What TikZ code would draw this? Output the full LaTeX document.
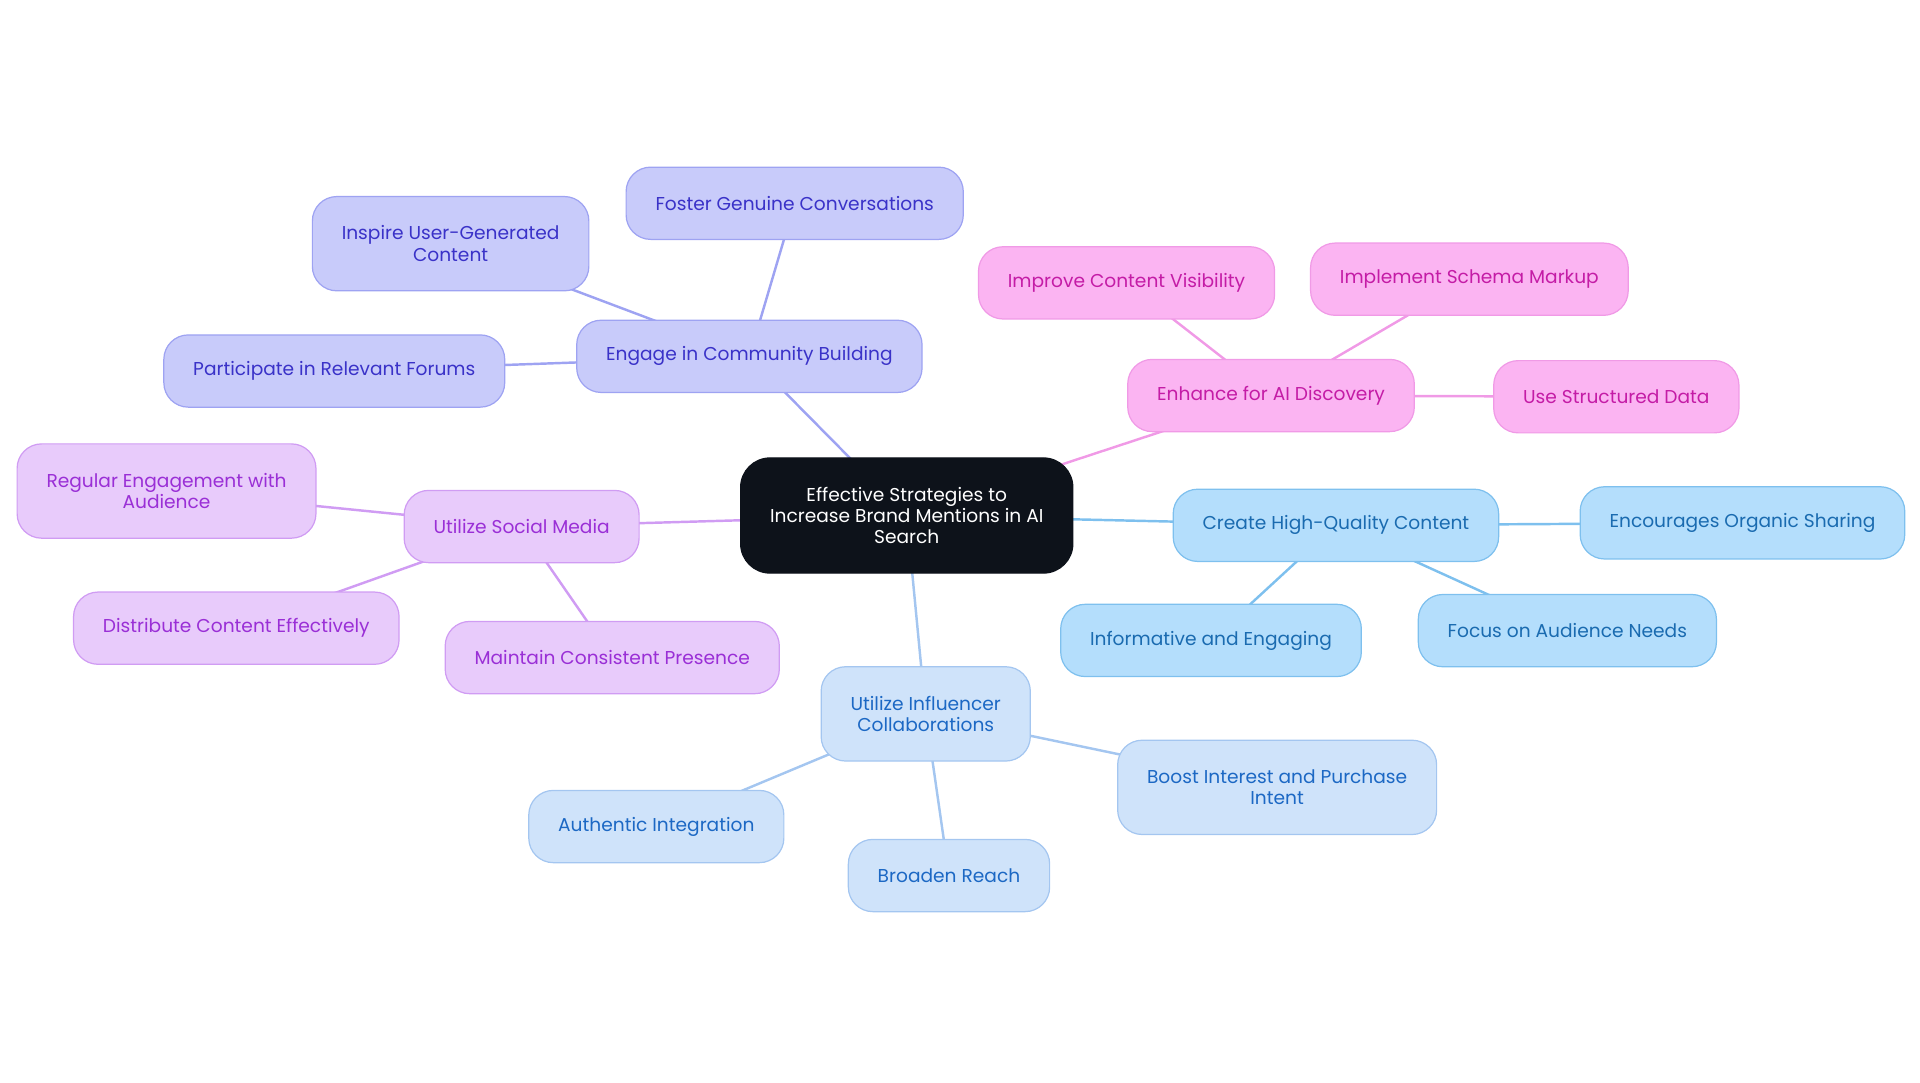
\documentclass[tikz,border=0pt]{standalone}
\usepackage{fontspec}
\setmainfont{Poppins}
\usetikzlibrary{backgrounds}
\definecolor{rootfill}{HTML}{0D121A}
\definecolor{comfill}{HTML}{C8CBFA}
\definecolor{comline}{HTML}{9EA3F2}
\definecolor{comtext}{HTML}{3A32C8}
\definecolor{aifill}{HTML}{FBB4F2}
\definecolor{ailine}{HTML}{F09AE6}
\definecolor{aitext}{HTML}{C41CA6}
\definecolor{socfill}{HTML}{E8CBFB}
\definecolor{socline}{HTML}{D09CF3}
\definecolor{soctext}{HTML}{9A2FD6}
\definecolor{hqfill}{HTML}{B4DEFC}
\definecolor{hqline}{HTML}{7EC0EE}
\definecolor{hqtext}{HTML}{1A6BB0}
\definecolor{inffill}{HTML}{CFE3FA}
\definecolor{infline}{HTML}{A4C6F0}
\definecolor{inftext}{HTML}{1C68C4}
\begin{document}
\begin{tikzpicture}[x=1pt,y=-1pt,
 every node/.style = {shape=rectangle, rounded corners=20pt, draw, align=center, line width=1pt,
   inner xsep=24pt, minimum height=59pt, font=\fontsize{15.2}{17.5}\selectfont},
 root/.style = {fill=rootfill, draw=rootfill, text=white, minimum height=94pt, rounded corners=24pt},
 com/.style = {fill=comfill, draw=comline, text=comtext},
 ai/.style = {fill=aifill, draw=ailine, text=aitext},
 soc/.style = {fill=socfill, draw=socline, text=soctext},
 hq/.style = {fill=hqfill, draw=hqline, text=hqtext},
 inf/.style = {fill=inffill, draw=infline, text=inftext},
 twoline/.style = {minimum height=77pt},
 link/.style = {line width=2pt}]
 \useasboundingbox (0,0) rectangle (1568,884);
 \node [root] (root) at (740.5,421) {Effective Strategies to\\Increase Brand Mentions in AI\\Search};
 \node [com] (engage) at (612,291) {Engage in Community Building};
 \node [com] (foster) at (649,166) {Foster Genuine Conversations};
 \node [com,twoline] (inspire) at (368,199) {Inspire User-Generated\\Content};
 \node [com] (forums) at (273,303) {Participate in Relevant Forums};
 \node [ai] (enhance) at (1038,323) {Enhance for AI Discovery};
 \node [ai] (visibility) at (920,231) {Improve Content Visibility};
 \node [ai] (schema) at (1200,228) {Implement Schema Markup};
 \node [ai] (structured) at (1320,324) {Use Structured Data};
 \node [hq] (quality) at (1091,429) {Create High-Quality Content};
 \node [hq] (sharing) at (1423,427) {Encourages Organic Sharing};
 \node [hq] (informative) at (989,523) {Informative and Engaging};
 \node [hq] (needs) at (1280,515) {Focus on Audience Needs};
 \node [soc] (social) at (426,430) {Utilize Social Media};
 \node [soc,twoline] (regular) at (136,401) {Regular Engagement with\\Audience};
 \node [soc] (distribute) at (193,513) {Distribute Content Effectively};
 \node [soc] (presence) at (500,537) {Maintain Consistent Presence};
 \node [inf,twoline] (influencer) at (756,583) {Utilize Influencer\\Collaborations};
 \node [inf] (authentic) at (536,675) {Authentic Integration};
 \node [inf] (reach) at (775,715) {Broaden Reach};
 \node [inf,twoline] (boost) at (1043,643) {Boost Interest and Purchase\\Intent};
 \begin{scope}[on background layer]
  \foreach \a/\b in {root/engage,engage/foster,engage/inspire,engage/forums}
   \draw [link,comline] (\a.center) -- (\b.center);
  \foreach \a/\b in {root/enhance,enhance/visibility,enhance/schema,enhance/structured}
   \draw [link,ailine] (\a.center) -- (\b.center);
  \foreach \a/\b in {root/quality,quality/sharing,quality/informative,quality/needs}
   \draw [link,hqline] (\a.center) -- (\b.center);
  \foreach \a/\b in {root/social,social/regular,social/distribute,social/presence}
   \draw [link,socline] (\a.center) -- (\b.center);
  \foreach \a/\b in {root/influencer,influencer/authentic,influencer/reach,influencer/boost}
   \draw [link,infline] (\a.center) -- (\b.center);
 \end{scope}
\end{tikzpicture}
\end{document}
